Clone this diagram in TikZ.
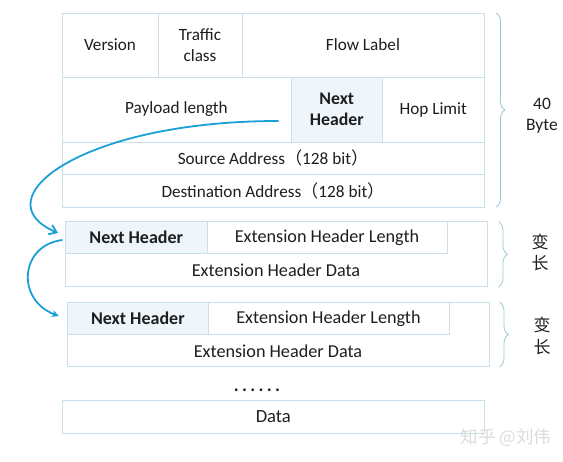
\documentclass[tikz,border=0pt]{standalone}
\usepackage{fontspec}
\setmainfont{Carlito}
\newfontfamily\cjk{Noto Sans CJK SC}
\usetikzlibrary{positioning,arrows.meta,decorations.pathreplacing}
\definecolor{cellline}{HTML}{C9E0EA}
\definecolor{cellfill}{HTML}{EEF6FB}
\definecolor{bracecol}{HTML}{9CC7D8}
\definecolor{arrowblue}{HTML}{1AA0D4}
\definecolor{inktext}{HTML}{1E1E1E}
\newcommand{\fwparen}[1]{{\cjk #1}}

\begin{document}
\begin{tikzpicture}[x=1pt,y=-1pt,
    cell/.style={draw=cellline, line width=0.8pt, inner sep=0pt, text=inktext,
        font=\fontsize{17.2}{20.5}\selectfont, align=center},
    nhcell/.style={cell, fill=cellfill, font=\fontsize{17.8}{21}\selectfont\bfseries},
    extcell/.style={cell, font=\fontsize{18.2}{21}\selectfont},
    extnh/.style={nhcell, font=\fontsize{18}{21}\selectfont\bfseries},
    plain/.style={text=inktext, font=\fontsize{18.2}{21}\selectfont, align=center},
    lenbrace/.style={draw=bracecol, line width=0.8pt,
        decorate, decoration={brace, amplitude=9pt}},
    hop/.style={draw=arrowblue, line width=1.8pt}]
    \useasboundingbox (0,0) rectangle (563,462);
    %IPv6 fixed header
    \node[cell, minimum width=96pt, minimum height=64pt] (version) at (110,45) {Version};
    \node[cell, minimum width=84pt, minimum height=64pt] (traffic) at (200,45) {Traffic\\class};
    \node[cell, minimum width=242pt, minimum height=64pt] (flow) at (363,45) {Flow Label};
    \node[cell, minimum width=229pt, minimum height=65pt] (payload) at (176.5,109.5) {Payload length};
    \node[nhcell, minimum width=91.5pt, minimum height=65pt] (nexthdr) at (336.75,109.5) {Next\\Header};
    \node[cell, minimum width=101.5pt, minimum height=65pt] (hoplimit) at (433.25,109.5) {Hop Limit};
    \node[cell, minimum width=422pt, minimum height=32pt] (src) at (273,158) {Source Address\fwparen{（}128 bit\fwparen{）}};
    \node[cell, minimum width=422pt, minimum height=33pt] (dst) at (273,190.5) {Destination Address\fwparen{（}128 bit\fwparen{）}};
    %first extension header
    \node[cell, minimum width=421.5pt, minimum height=65pt] (ext1) at (276.25,254.2) {};
    \node[extnh, minimum width=141.5pt, minimum height=31.6pt] (nh1) at (136.25,237.5) {Next Header};
    \node[extcell, minimum width=240pt, minimum height=31.6pt] (len1) at (327,237.5) {Extension Header Length};
    \node[plain] (data1) at (276,270.5) {Extension Header Data};
    %second extension header
    \node[cell, minimum width=421.3pt, minimum height=64.4pt] (ext2) at (278.35,334.5) {};
    \node[extnh, minimum width=140.3pt, minimum height=32pt] (nh2) at (137.85,318.3) {Next Header};
    \node[extcell, minimum width=241pt, minimum height=32pt] (len2) at (328.5,318.3) {Extension Header Length};
    \node[plain] (data2) at (278,351) {Extension Header Data};
    \node[plain, font=\fontsize{18.5}{21}\selectfont\bfseries\addfontfeature{LetterSpace=18}] (dots) at (257,390.5) {......};
    \node[cell, minimum width=421.3pt, minimum height=32.3pt, font=\fontsize{18.6}{21}\selectfont] (data) at (273.35,416.85) {Data};
    %braces and lengths
    \draw[lenbrace] (496,13) -- (496,207);
    \node[plain, font=\fontsize{17.5}{21}\selectfont] (size) at (542,115.5) {40\\Byte};
    \draw[lenbrace] (498.5,221.7) -- (498.5,286.7);
    \node[plain, font=\cjk\fontsize{17}{21.5}\selectfont] (var1) at (540,252.3) {变\\长};
    \draw[lenbrace] (499.5,302.3) -- (499.5,366.7);
    \node[plain, font=\cjk\fontsize{17}{21.5}\selectfont] (var2) at (542,336) {变\\长};
    \node[text=black!14, font=\cjk\fontsize{17.5}{20}\selectfont] (mark) at (506,438) {知乎 @刘伟};
    %next header chain
    \draw[hop, -{Straight Barb[length=7pt,width=10pt]}] ([xshift=-12pt,yshift=-11.5pt]nexthdr.west)
        .. controls +(-199,0) and +(-78,-33) .. ([xshift=-7pt,yshift=4.5pt]nh1.west);
    \draw[hop, -{Stealth[length=7pt,width=7pt]}] ([xshift=-2.5pt,yshift=-2.5pt]nh1.west)
        .. controls +(-43,5) and +(-43,-16) .. ([xshift=-8.5pt,yshift=2.3pt]nh2.west);
\end{tikzpicture}
\end{document}
